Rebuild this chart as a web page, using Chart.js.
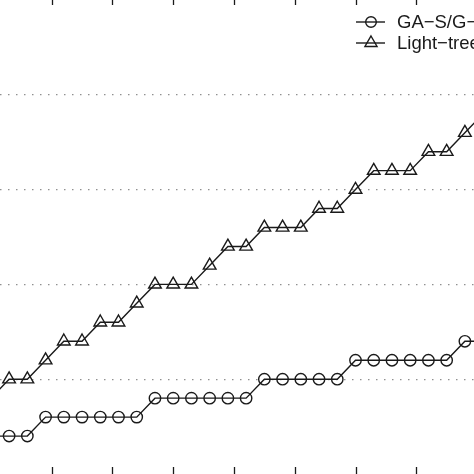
<!DOCTYPE html>
<html>
<head>
<meta charset="utf-8">
<script src="https://cdn.jsdelivr.net/npm/chart.js@4.4.1/dist/chart.umd.min.js"></script>
<style>
  html, body { margin: 0; padding: 0; background: #fff; }
  #wrap { width: 474px; height: 474px; overflow: hidden; }
</style>
</head>
<body>
<div id="wrap"><canvas id="chart" width="474" height="474"></canvas></div>
<script>
const xValues = [0, 3, 6, 9, 12, 15, 18, 21, 24, 27, 30, 33, 36, 39, 42, 45, 48, 51, 54, 57, 60, 63, 66, 69, 72, 75, 78, 81];
const gaValues = [17, 17, 17, 18, 18, 18, 18, 18, 18, 19, 19, 19, 19, 19, 19, 20, 20, 20, 20, 20, 21, 21, 21, 21, 21, 21, 22, 22];
const lightTreeValues = [19, 20, 20, 21, 22, 22, 23, 23, 24, 25, 25, 25, 26, 27, 27, 28, 28, 28, 29, 29, 30, 31, 31, 31, 32, 32, 33, 34];
const seriesNames = ["GA\u2212S/G\u2212LT", "Light\u2212tree"];
const xTicks = [10, 20, 30, 40, 50, 60, 70];

const toPoints = vals => xValues.map((x, i) => ({ x, y: vals[i] }));
const ink = "#1a1a1a";

// tick marks pointing inward on top and bottom edges, plus the legend
const frameAndLegend = {
  id: "frameAndLegend",
  afterDraw(chart) {
    const ctx = chart.ctx;
    const xs = chart.scales.x;
    const area = chart.chartArea;
    ctx.save();
    ctx.strokeStyle = ink;
    ctx.lineWidth = 1.3;
    xTicks.forEach(v => {
      const px = Math.round(xs.getPixelForValue(v)) + 0.5;
      ctx.beginPath();
      ctx.moveTo(px, area.top);
      ctx.lineTo(px, area.top + 5);
      ctx.moveTo(px, area.bottom);
      ctx.lineTo(px, area.bottom - 7);
      ctx.stroke();
    });

    const rows = [22, 43];
    ctx.font = "18.5px 'Liberation Sans', Arial, sans-serif";
    ctx.textBaseline = "middle";
    ctx.fillStyle = ink;
    ctx.lineWidth = 1.4;
    rows.forEach((y, i) => {
      ctx.beginPath();
      ctx.moveTo(356, y);
      ctx.lineTo(385, y);
      ctx.stroke();
      ctx.beginPath();
      if (i === 0) {
        ctx.arc(371, y, 5.3, 0, Math.PI * 2);
      } else {
        const r = 7;
        ctx.moveTo(371, y - r);
        ctx.lineTo(371 + r * 0.866, y + r * 0.5);
        ctx.lineTo(371 - r * 0.866, y + r * 0.5);
        ctx.closePath();
      }
      ctx.stroke();
      ctx.fillText(seriesNames[i], 397, y + 1);
    });
    ctx.restore();
  }
};

new Chart(document.getElementById("chart"), {
  type: "line",
  data: {
    datasets: [
      {
        label: seriesNames[0],
        data: toPoints(gaValues),
        borderColor: ink,
        borderWidth: 1.4,
        pointStyle: "circle",
        pointRadius: 5.7,
        pointBorderWidth: 1.4,
        pointBorderColor: ink,
        pointBackgroundColor: "rgba(0,0,0,0)",
        tension: 0
      },
      {
        label: seriesNames[1],
        data: toPoints(lightTreeValues),
        borderColor: ink,
        borderWidth: 1.4,
        pointStyle: "triangle",
        pointRadius: 7.3,
        pointBorderWidth: 1.4,
        pointBorderColor: ink,
        pointBackgroundColor: "rgba(0,0,0,0)",
        tension: 0
      }
    ]
  },
  options: {
    responsive: false,
    animation: false,
    layout: { padding: 0, autoPadding: false },
    plugins: { legend: { display: false }, tooltip: { enabled: false } },
    scales: {
      x: {
        type: "linear",
        min: 1.5,
        max: 79.5,
        display: false
      },
      y: {
        type: "linear",
        min: 15,
        max: 40,
        display: true,
        ticks: { display: false, stepSize: 5 },
        grid: {
          drawTicks: false,
          lineWidth: 1.2,
          color: c => (c.tick && (c.tick.value === 15 || c.tick.value === 40)) ? "rgba(0,0,0,0)" : "#909090"
        },
        border: { display: false, dash: [1.5, 6.5] }
      }
    }
  },
  plugins: [frameAndLegend]
});
</script>
</body>
</html>
